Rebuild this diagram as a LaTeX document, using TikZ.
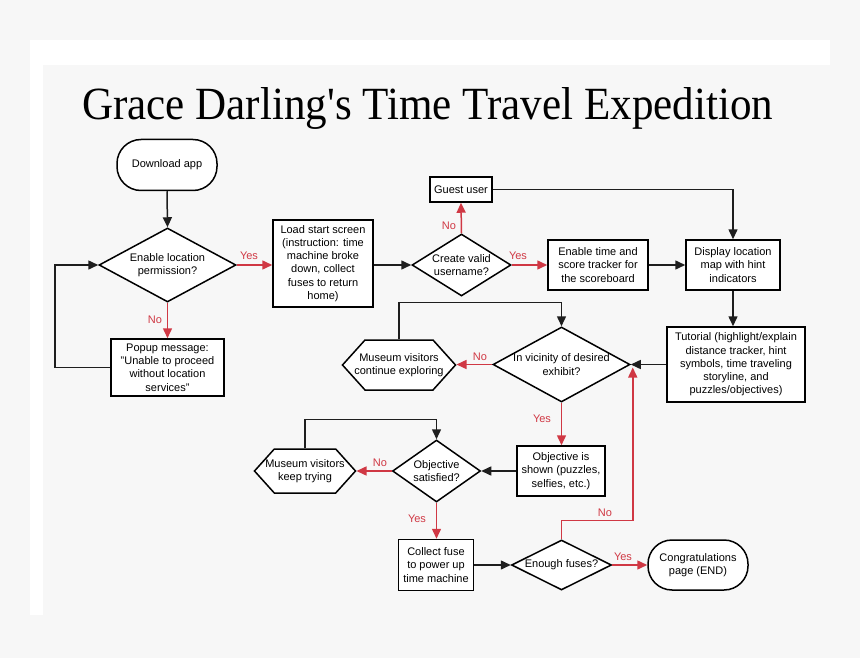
\documentclass[tikz,border=0pt]{standalone}
\usepackage{graphicx}
\usepackage{fontspec}
\setmainfont{Liberation Serif}
\setsansfont{Liberation Sans}
\newfontfamily\titlefont{Liberation Serif}[Ligatures=TeXOff]
\usetikzlibrary{shapes.geometric,shapes.symbols,arrows.meta,calc}
\definecolor{bgc}{RGB}{247,247,247}
\definecolor{lred}{RGB}{208,56,68}
\definecolor{lblack}{RGB}{30,30,30}
\begin{document}
\begin{tikzpicture}[x=1pt,y=-1pt,
  every node/.style={font=\sffamily\fontsize{11}{13.3}\selectfont},
  box/.style={draw=black, fill=white, line width=1.5pt, inner sep=0pt, align=center},
  dec/.style={draw=black, fill=white, line width=1.5pt, diamond, inner sep=0pt},
  hexa/.style={draw=black, fill=white, line width=1.5pt, signal, signal to=east and west, signal pointer angle=96, inner sep=0pt},
  term/.style={box, rounded corners=24pt},
  txt/.style={align=center, inner sep=0pt},
  blk/.style={draw=lblack, line width=1.5pt, -{Triangle[length=10pt,width=9pt]}},
  redl/.style={draw=lred, line width=1.5pt, -{Triangle[length=10pt,width=9pt]}},
  lab/.style={text=lred, inner sep=0pt}]
\useasboundingbox (0,0) rectangle (860,658);
\fill[bgc] (0,0) rectangle (860,658);
\fill[white] (30,40) rectangle (830,65);
\fill[white] (30,40) rectangle (43,615);

\node[anchor=base west, inner sep=0pt] (title) at (82,120)
  {\resizebox{691pt}{32pt}{\titlefont\fontsize{44}{48}\selectfont Grace Darling's Time Travel Expedition}};

\node[term, minimum width=100, minimum height=51] (dl) at (167,165) {Download app};
\node[dec, minimum width=137, minimum height=74, label={[txt]center:{Enable location\\permission?}}] (loc) at (167.5,265) {};
\node[box, minimum width=113, minimum height=57] (pop) at (167.5,367.5) {Popup message:\\"Unable to proceed\\without location\\services"};
\node[box, minimum width=100, minimum height=87] (load) at (323,263.5) {Load start screen\\(instruction: time\\machine broke\\down, collect\\fuses to return\\home)};
\node[dec, minimum width=99, minimum height=62, label={[txt]center:{Create valid\\username?}}] (cvu) at (461.5,265) {};
\node[box, minimum width=62, minimum height=25] (guest) at (461,189.5) {Guest user};
\node[box, minimum width=100, minimum height=50] (ets) at (598,265) {Enable time and\\score tracker for\\the scoreboard};
\node[box, minimum width=94, minimum height=50] (disp) at (733,265) {Display location\\map with hint\\indicators};
\node[box, minimum width=138, minimum height=75] (tut) at (736,364.5) {Tutorial (highlight/explain\\distance tracker, hint\\symbols, time traveling\\storyline, and\\puzzles/objectives)};
\node[dec, minimum width=137, minimum height=75, label={[txt]center:{In vicinity of desired\\exhibit?}}] (vic) at (561.5,364.5) {};
\node[hexa, minimum width=113, minimum height=50, label={[txt]center:{Museum visitors\\continue exploring}}] (mve) at (399,365) {};
\node[box, minimum width=88, minimum height=50] (obj) at (561,471) {Objective is\\shown (puzzles,\\selfies, etc.)};
\node[dec, minimum width=88, minimum height=62, label={[txt]center:{Objective\\satisfied?}}] (sat) at (436.5,471) {};
\node[hexa, minimum width=101, minimum height=44, label={[txt]center:{Museum visitors\\keep trying}}] (mkt) at (305,471) {};
\node[box, minimum width=75, minimum height=51] (col) at (436,565) {Collect fuse\\to power up\\time machine};
\node[dec, minimum width=100, minimum height=50, label={[txt]center:{Enough fuses?}}] (enf) at (561.5,565) {};
\node[term, minimum width=100, minimum height=50] (cong) at (698,565) {Congratulations\\page (END)};

\draw[blk] (dl.south) -- (loc.north);
\draw[redl] (loc.east) -- (loc.east -| load.west);
\draw[redl] (loc.south) -- (pop.north);
\coordinate (lp) at (55,367.5);
\draw[blk] (pop.west) -- (lp) |- (loc.west);
\draw[blk] (load.east |- cvu.west) -- (cvu.west);
\draw[redl] (cvu.north) -- (guest.south);
\draw[blk] (guest.east) -| (disp.north);
\draw[redl] (cvu.east) -- (ets.west);
\draw[blk] (ets.east) -- (disp.west);
\draw[blk] (disp.south) -- (disp.south |- tut.north);
\draw[blk] (tut.west) -- (vic.east);
\draw[redl] (vic.west) -- (vic.west -| mve.east);
\draw[blk] (mve.north) -- ++(0,-37) -| (vic.north);
\draw[redl] (vic.south) -- (vic.south |- obj.north);
\draw[blk] (obj.west) -- (obj.west -| sat.east);
\draw[redl] (sat.west) -- (sat.west -| mkt.east);
\draw[blk] (mkt.north) -- ++(0,-29) -| (sat.north);
\draw[redl] (sat.south) -- (sat.south |- col.north);
\draw[blk] (col.east) -- (col.east -| enf.west);
\draw[redl] (enf.east) -- (enf.east -| cong.west);
\coordinate (vicr) at ($(vic.east)+(2,3)$);
\draw[redl] (enf.north) -- ++(0,-19) -| (vicr);

\node[lab] (ly1) at (249,256) {Yes};
\node[lab] (ln1) at (155,320) {No};
\node[lab] (ln2) at (449,226) {No};
\node[lab] (ly2) at (518,256) {Yes};
\node[lab] (ln3) at (480,357) {No};
\node[lab] (ly3) at (542,419) {Yes};
\node[lab] (ln4) at (380,463) {No};
\node[lab] (ly4) at (417,519) {Yes};
\node[lab] (ln5) at (605,513) {No};
\node[lab] (ly5) at (623,557) {Yes};
\end{tikzpicture}
\end{document}
